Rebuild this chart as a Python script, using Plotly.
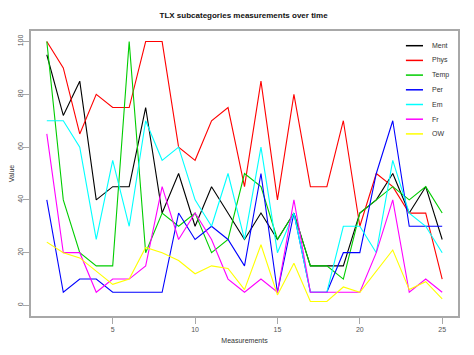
import plotly.graph_objects as go

measurements = list(range(1, 26))
ment = [95, 72, 85, 40, 45, 45, 75, 35, 50, 30, 45, 35, 25, 35, 25, 35, 15, 15, 15, 35, 40, 50, 35, 45, 25]
phys = [100, 90, 65, 80, 75, 75, 100, 100, 60, 55, 70, 75, 45, 85, 40, 80, 45, 45, 70, 30, 50, 45, 35, 35, 10]
temp = [100, 40, 20, 15, 15, 100, 20, 35, 30, 35, 20, 25, 50, 45, 25, 35, 15, 15, 10, 35, 40, 45, 40, 45, 35]
per = [40, 5, 10, 10, 5, 5, 5, 5, 35, 25, 30, 25, 15, 50, 5, 35, 5, 5, 20, 20, 50, 70, 30, 30, 30]
em = [70, 70, 60, 25, 55, 30, 70, 55, 60, 40, 30, 50, 25, 60, 20, 35, 5, 5, 30, 30, 20, 55, 35, 30, 20]
fr = [65, 20, 20, 5, 10, 10, 15, 45, 25, 35, 25, 10, 5, 10, 5, 40, 5, 5, 5, 5, 20, 40, 5, 10, 5]
ow = [24, 20, 18, 13, 8, 10, 22, 20, 17, 12, 15, 14, 6, 23, 4, 16, 1.5, 1.5, 7, 5, 13, 21, 6, 9, 2.5]

series_names = ["Ment", "Phys", "Temp", "Per", "Em", "Fr", "OW"]
series_values = [ment, phys, temp, per, em, fr, ow]
series_colors = ["#000000", "#FF0000", "#00CD00", "#0000FF", "#00FFFF", "#FF00FF", "#FFFF00"]

x_ticks = [5, 10, 15, 20, 25]
y_ticks = [0, 20, 40, 60, 80, 100]

fig = go.Figure()
for name, vals, col in zip(series_names, series_values, series_colors):
    fig.add_trace(go.Scatter(x=measurements, y=vals, mode="lines", name=name,
                             line=dict(color=col, width=1.1), showlegend=False))

# manual R-style legend (no box), in paper coordinates
plot_h = 285.0
for i, (name, col) in enumerate(zip(series_names, series_colors)):
    yp = (285.0 - (14.7 + 14.7 * i)) / plot_h
    fig.add_shape(type="line", xref="paper", yref="paper",
                  x0=0.878, x1=0.918, y0=yp, y1=yp,
                  line=dict(color=col, width=1.5))
    fig.add_annotation(xref="paper", yref="paper", x=0.934, y=yp,
                       xanchor="left", yanchor="middle", text=name, showarrow=False,
                       font=dict(size=7, color="#333333", family="Liberation Sans"))

axis_common = dict(showgrid=False, zeroline=False, showline=True, mirror=True,
                   linecolor="#a8a8a8", linewidth=1.5, ticks="outside", ticklen=6,
                   tickcolor="#a8a8a8", automargin=False,
                   tickfont=dict(size=7, color="#555555", family="Liberation Sans"))

# page body has an 8px default margin, so the figure is offset by 8px
fig.update_layout(
    width=474, height=355,
    margin=dict(l=23, r=24, t=23, b=47),
    paper_bgcolor="white", plot_bgcolor="white",
    font=dict(family="Liberation Sans", color="#222222"),
    title=dict(text="<b>TLX subcategories measurements over time</b>",
               x=0.497, xanchor="center", y=0.98, yanchor="middle",
               yref="container",
               font=dict(size=8, color="#111111")),
    xaxis=dict(range=[0.04, 25.96], tickvals=x_ticks, ticklabelstandoff=0, **axis_common,
               title=dict(text="Measurements", font=dict(size=7, color="#333333"), standoff=6)),
    yaxis=dict(range=[-4, 104], tickvals=y_ticks, tickangle=-90, ticklabelstandoff=-3, **axis_common,
               title=dict(text="Value", font=dict(size=7, color="#333333"), standoff=9)),
    showlegend=False,
)

fig.write_html("out.html")
